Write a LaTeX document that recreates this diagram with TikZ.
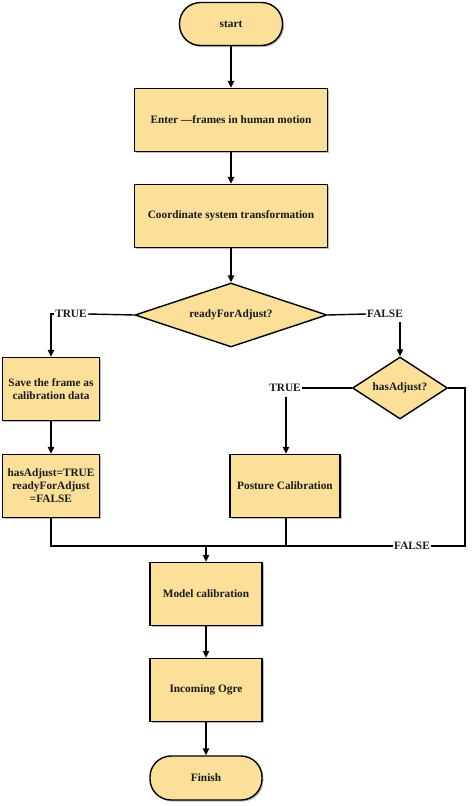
\documentclass[tikz,border=0pt]{standalone}
\usepackage{fontspec}
\setmainfont{Liberation Serif}
\usetikzlibrary{arrows.meta,shapes.geometric,shadows}
\definecolor{boxfill}{HTML}{FCE09A}
\begin{document}
\begin{tikzpicture}[x=1pt,y=-1pt,
  every node/.style={font=\bfseries\fontsize{11.3}{13}\selectfont, text=black!90},
  shd/.style={drop shadow={shadow xshift=1.5pt,shadow yshift=-1.5pt,fill=black!45,opacity=0.6}},
  procbox/.style={draw, line width=1.4pt, fill=boxfill, shd, minimum width=#1, minimum height=63pt, align=center, inner sep=2pt},
  termbox/.style={draw, line width=1.4pt, fill=boxfill, shd, rounded corners=21pt, minimum width=#1, minimum height=43pt},
  decbox/.style={draw, line width=1.4pt, fill=boxfill, diamond, aspect=#1, inner sep=0pt},
  lbl/.style={inner sep=1pt, font=\bfseries\fontsize{11.3}{13}\selectfont},
  ln/.style={line width=1.4pt},
  arr/.style={line width=1.4pt, -{Triangle[length=7pt,width=6.5pt]}}
]
\useasboundingbox (0,0) rectangle (474,806);

\node[termbox=103pt] (start) at (231,24) {start};
\node[procbox=193pt] (enter) at (231,120) {Enter ---frames in human motion};
\node[procbox=193pt] (coord) at (231,216) {Coordinate system transformation};
\node[decbox=3, minimum width=192pt, minimum height=64pt] (ready) at (231,315) {readyForAdjust?};
\node[procbox=97pt] (save) at (51,389) {Save the frame as\\calibration data};
\node[procbox=97pt] (flags) at (51,486) {hasAdjust=TRUE\\readyForAdjust\\=FALSE};
\node[decbox=1.5, minimum width=95pt, minimum height=62pt] (has) at (400,388) {hasAdjust?};
\node[procbox=110pt] (post) at (285,486) {Posture Calibration};
\node[procbox=112pt] (model) at (206,594) {Model calibration};
\node[procbox=112pt] (ogre) at (206,690) {Incoming Ogre};
\node[termbox=112pt, minimum height=44pt] (fin) at (206,778) {Finish};

\node[lbl] (t1) at (71,314) {TRUE};
\node[lbl] (f1) at (385,314) {FALSE};
\node[lbl] (t2) at (285,388) {TRUE};
\node[lbl] (f2) at (412,546) {FALSE};

\coordinate (c1) at (51,314);
\coordinate (c2) at (400,322);
\coordinate (c3) at (286,397);
\coordinate (c4) at (465,388);
\coordinate (c5) at (465,546);
\coordinate (m) at (206,546);

\draw[arr] (start) -- (enter);
\draw[arr] (enter) -- (coord);
\draw[arr] (coord) -- (ready);
\draw[ln] (ready.west) -- (t1.east);
\draw[arr] (t1.west) -- (c1) -- (save.north);
\draw[arr] (save) -- (flags);
\draw[ln] (ready.east) -- (f1.west);
\draw[arr] (c2) -- (has.north);
\draw[ln] (has.west) -- (t2.east);
\draw[arr] (c3) -- (c3 |- post.north);
\draw[ln] (has.east) -- (c4) -- (c5) -- (f2.east);
\draw[ln] (f2.west) -- (m);
\draw[ln] (flags.south) |- (m);
\draw[ln] (post.south -| c3) -- (c3 |- m);
\draw[arr] (m) -- (model.north);
\draw[arr] (model) -- (ogre);
\draw[arr] (ogre) -- (fin);
\end{tikzpicture}
\end{document}
